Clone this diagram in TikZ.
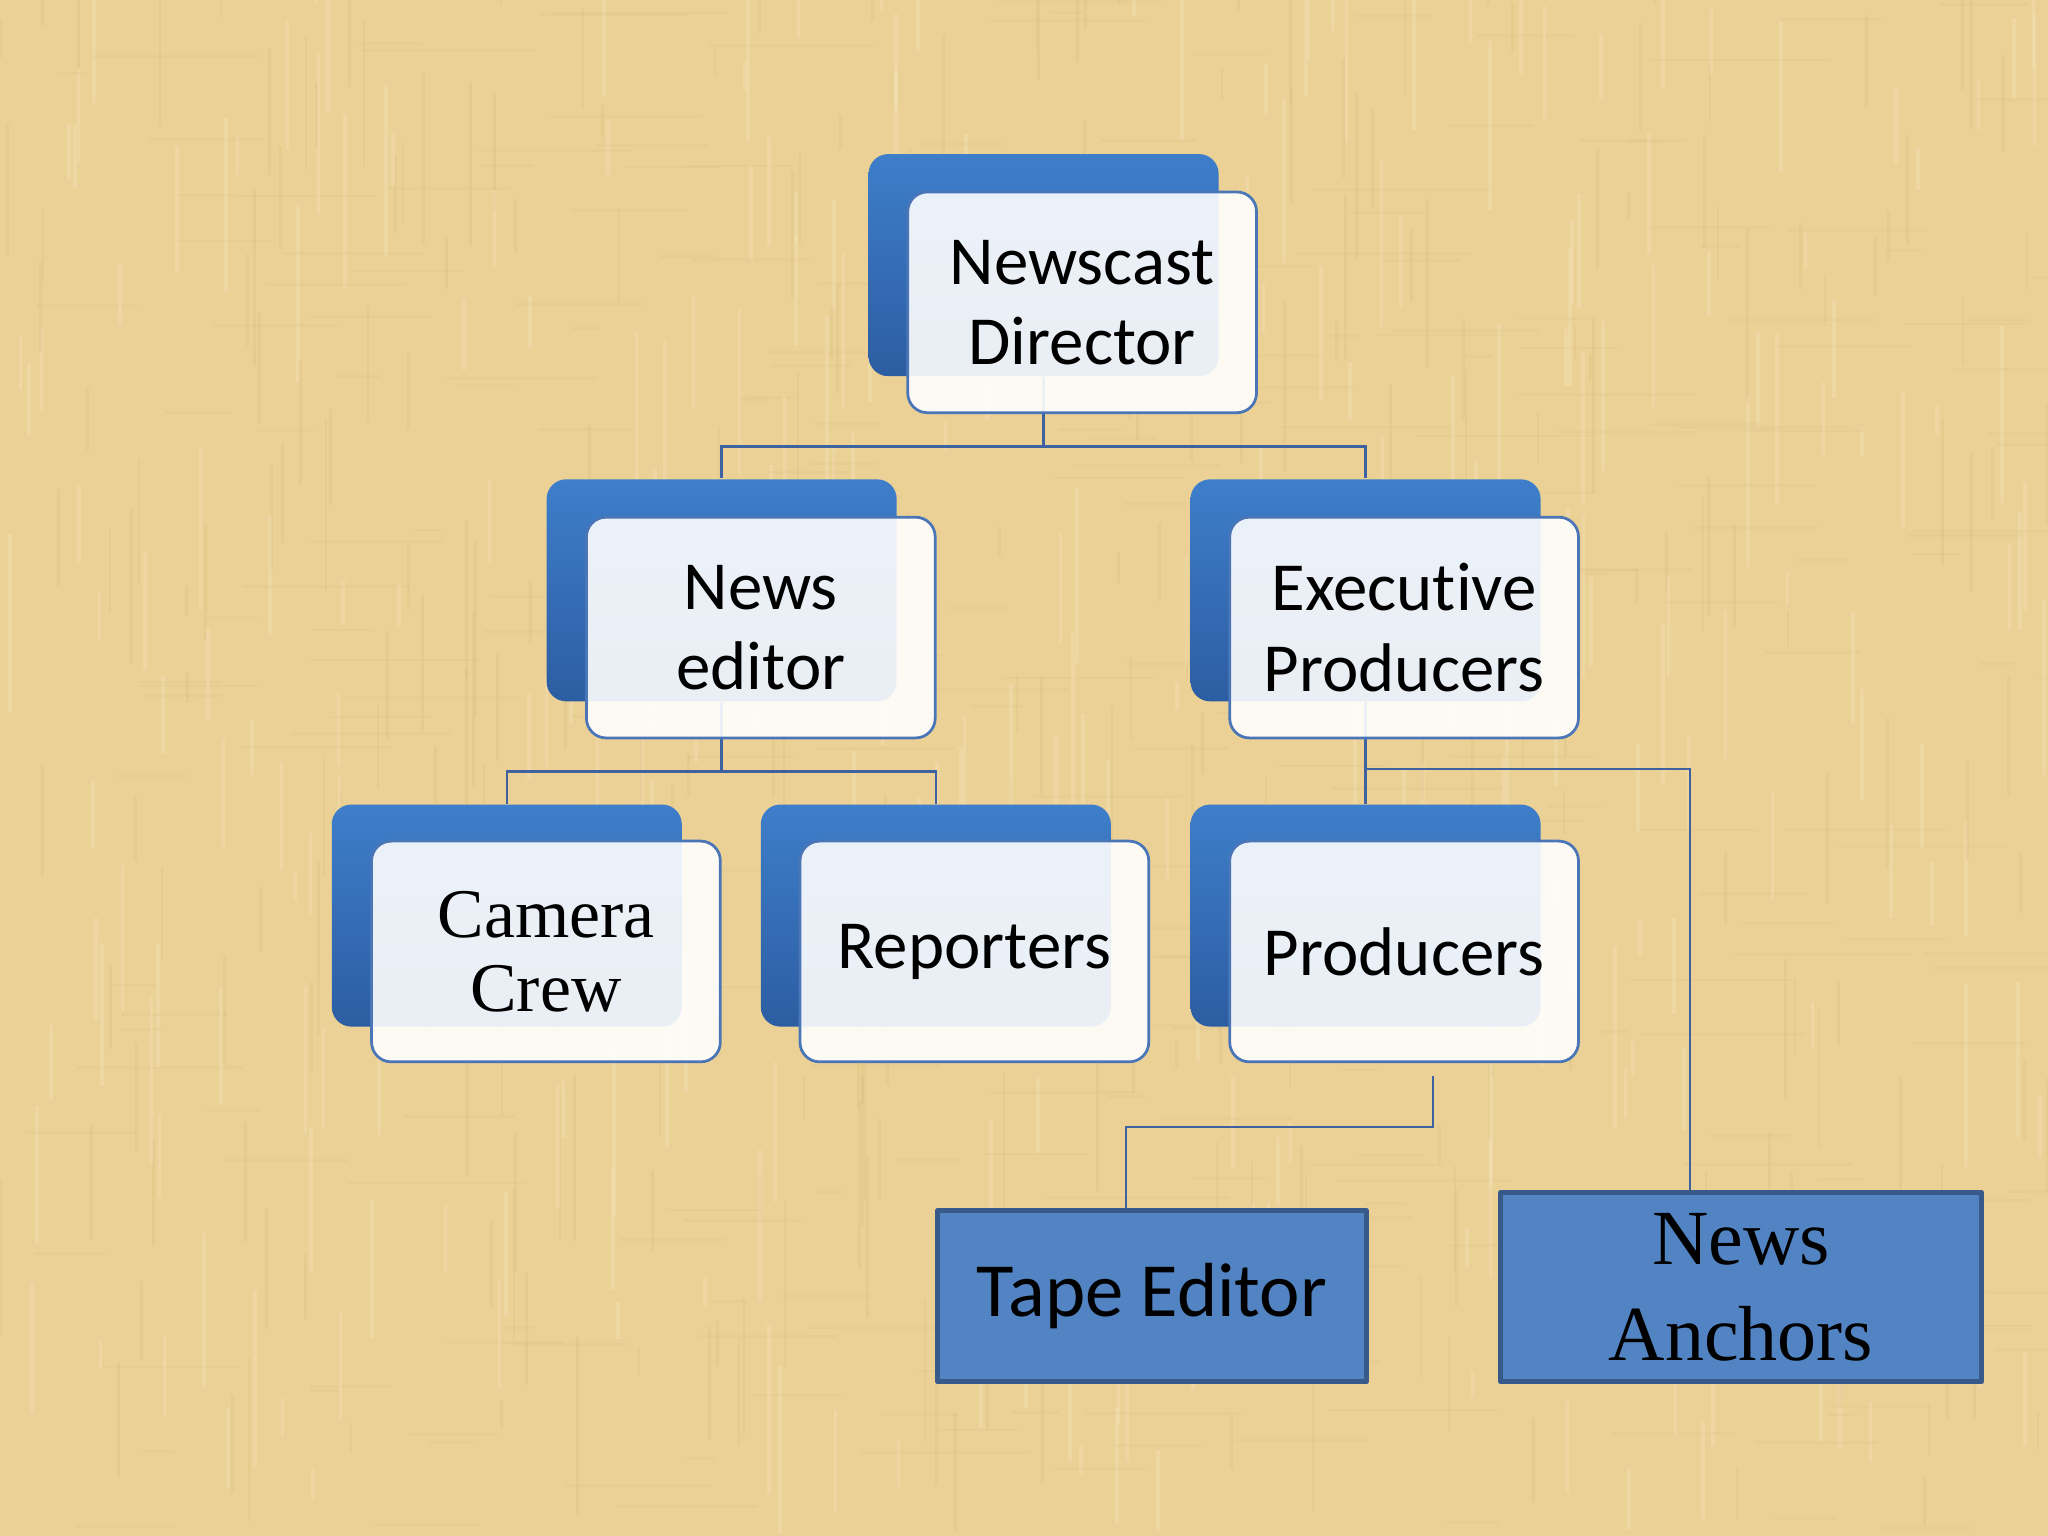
\documentclass[tikz,border=0pt]{standalone}
\usepackage{fontspec}
\setmainfont{Carlito}[Ligatures=NoCommon]
\newfontfamily\timesface{Liberation Serif}
\usetikzlibrary{backgrounds}
\pgfdeclarelayer{paper}
\pgfsetlayers{paper,background,main}
\definecolor{papercol}{RGB}{235,209,150}
\definecolor{paperdark}{RGB}{205,172,102}
\definecolor{paperlight}{RGB}{248,232,196}
\definecolor{bluetop}{RGB}{62,126,202}
\definecolor{bluebot}{RGB}{44,93,162}
\definecolor{boxline}{RGB}{74,118,184}
\definecolor{connline}{RGB}{62,98,160}
\definecolor{flatfill}{RGB}{82,132,195}
\definecolor{flatline}{RGB}{56,90,138}
\tikzset{
  backbox/.style={rounded corners=0.15cm, minimum width=2.68cm, minimum height=1.70cm,
    top color=bluetop, bottom color=bluebot, inner sep=0pt},
  frontbox/.style={rounded corners=0.15cm, minimum width=2.67cm, minimum height=1.69cm,
    draw=boxline, line width=0.6pt, fill=white, fill opacity=0.9, text opacity=1,
    align=center, inner sep=0pt, font=\fontsize{15}{17.5}\selectfont},
  serifbox/.style={font=\timesface\fontsize{15.2}{16.2}\selectfont},
  flatbox/.style={draw=flatline, line width=1.1pt, fill=flatfill, align=center, inner sep=0pt},
  conn/.style={draw=connline, line width=0.55pt}
}
\begin{document}
\begin{tikzpicture}[line join=round]
    \useasboundingbox (0,0) rectangle (15.68,11.76);
    % paper texture
    \begin{pgfonlayer}{paper}
        \fill[papercol] (0,0) rectangle (15.68,11.76);
        \pgfmathsetseed{7}
        \foreach \i in {1,...,300}{
            \pgfmathsetmacro\xa{15.68*rnd}
            \pgfmathsetmacro\ya{11.76*rnd}
            \pgfmathsetmacro\len{0.2+1.2*rnd}
            \draw[paperdark, opacity=0.14, line width=0.6pt] (\xa,\ya) -- ++(0,\len);
            \pgfmathsetmacro\xb{15.68*rnd}
            \pgfmathsetmacro\yb{11.76*rnd}
            \draw[paperlight, opacity=0.3, line width=0.8pt] (\xb,\yb) -- ++(0,\len);
            \pgfmathsetmacro\xc{15.68*rnd}
            \pgfmathsetmacro\yc{11.76*rnd}
            \draw[paperdark, opacity=0.1, line width=0.6pt] (\xc,\yc) -- ++(\len,0);
        }
    \end{pgfonlayer}
    % top level
    \node[backbox] (dirB) at (7.99,9.73) {};
    \node[frontbox] (dirF) at (8.285,9.445) {Newscast\\Director};
    % second level
    \node[backbox] (edB) at (5.525,7.24) {};
    \node[frontbox] (edF) at (5.825,6.955) {News\\editor};
    \node[backbox] (exB) at (10.455,7.24) {};
    \node[frontbox] (exF) at (10.75,6.955) {Executive\\Producers};
    % third level
    \node[backbox] (camB) at (3.88,4.75) {};
    \node[frontbox, serifbox] (camF) at (4.18,4.475) {Camera\\Crew};
    \node[backbox] (repB) at (7.165,4.75) {};
    \node[frontbox] (repF) at (7.46,4.475) {Reporters};
    \node[backbox] (proB) at (10.455,4.75) {};
    \node[frontbox] (proF) at (10.75,4.475) {Producers};
    % plain boxes
    \node[flatbox, minimum width=3.28cm, minimum height=1.31cm, font=\fontsize{16.7}{20}\selectfont] (tape) at (8.82,1.835) {\raisebox{-0.6mm}{Tape Editor}};
    \node[flatbox, minimum width=3.68cm, minimum height=1.45cm, font=\timesface\fontsize{17}{21}\selectfont] (anch) at (13.33,1.905) {News\\Anchors};
    \coordinate (proTap) at ([xshift=0.22cm,yshift=-0.1cm]proF.south);
    % connectors
    \begin{pgfonlayer}{background}
        \draw[conn] (dirB.south) -- ++(0,-0.53) -| (edB.north);
        \draw[conn] (dirB.south) -- ++(0,-0.53) -| (exB.north);
        \draw[conn] (edB.south) -- ++(0,-0.53) -| (camB.north);
        \draw[conn] (edB.south) -- ++(0,-0.53) -| (repB.north);
        \draw[conn] (exB.south) -- (proB.north);
        \draw[conn] (exB.south) -- ++(0,-0.51) -| ([xshift=-0.39cm,yshift=-0.1cm]anch.north);
        \draw[conn] (proTap) -- ++(0,-0.39) -| ([xshift=-0.2cm]tape.north);
    \end{pgfonlayer}
\end{tikzpicture}
\end{document}
